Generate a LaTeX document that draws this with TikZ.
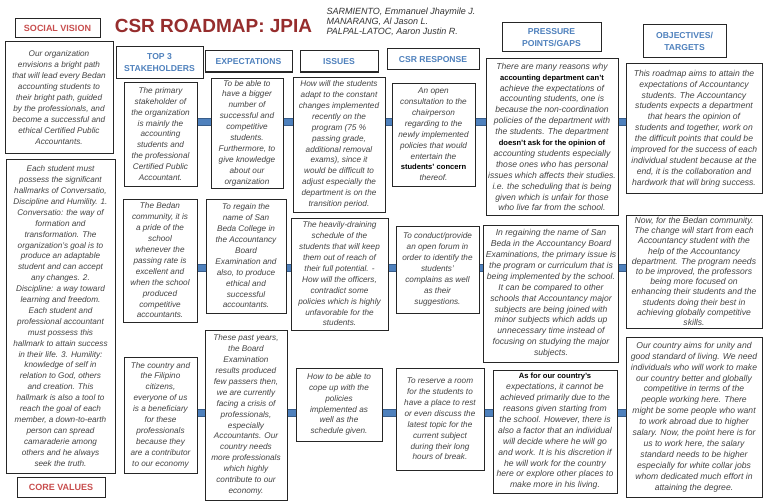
\documentclass[tikz,border=0pt]{standalone}
\usepackage{fontspec}
\setmainfont{Liberation Sans}
\usepackage{tikz}
\usetikzlibrary{positioning,calc}
\definecolor{HeadBlue}{RGB}{79,129,189}
\definecolor{LabelRed}{RGB}{200,78,78}
\definecolor{TitleRed}{RGB}{150,45,45}
\definecolor{LinkBlue}{RGB}{79,129,189}
\definecolor{LinkDark}{RGB}{56,93,138}
\definecolor{BodyGray}{RGB}{68,68,68}
\newcommand{\boldbit}[1]{{\upshape\bfseries\color{black}\fontsize{7.6}{10.9}\selectfont #1}}

\begin{document}
\begin{tikzpicture}[x=1pt,y=-1pt,
    box/.style={draw=black!85,line width=1pt,fill=white,align=center,inner sep=2pt},
    sz/.style 2 args={minimum width=#1,minimum height=#2},
    txt/.style={box,font=\fontsize{8.2}{10.9}\selectfont\itshape,text=BodyGray},
    wide/.style={txt,font=\fontsize{8.6}{10.9}\selectfont\itshape},
    head/.style={box,font=\fontsize{8.6}{12}\selectfont\bfseries,text=HeadBlue},
    redhead/.style={box,font=\fontsize{9}{11}\selectfont\bfseries,text=LabelRed},
    link/.style={draw=LinkDark,line width=0.8pt,double=LinkBlue,double distance=5.6pt}
  ]
  \fill[white] (0,0) rectangle (768,503);
  \useasboundingbox (0,0) rectangle (768,503);

  % title and names
  \node[font=\fontsize{19}{22}\selectfont\bfseries,text=TitleRed] (title) at (213.5,26) {CSR ROADMAP: JPIA};
  \node[anchor=west,align=left,font=\fontsize{9}{10}\selectfont\itshape,text=black!80] (names) at (323,22)
    {SARMIENTO, Emmanuel Jhaymile J.\\MANARANG, Al Jason L.\\PALPAL-LATOC, Aaron Justin R.};

  % left side
  \node[redhead,sz={85}{19}] (socvis) at (57.5,28.5) {SOCIAL VISION};
  \node[txt,sz={108}{111}] (vision) at (59,97.5) {Our organization\\envisions a bright path\\that will lead every Bedan\\accounting students to\\their bright path, guided\\by the professionals, and\\become a successful and\\ethical Certified Public\\Accountants.};
  \node[txt,sz={109}{314}] (values) at (60.5,316) {Each student must\\possess the significant\\hallmarks of Conversatio,\\Discipline and Humility. 1.\\Conversatio: the way of\\formation and\\transformation. The\\organization's goal is to\\produce an adaptable\\student and can accept\\any changes. 2.\\Discipline: a way toward\\learning and freedom.\\Each student and\\professional accountant\\must possess this\\hallmark to attain success\\in their life. 3. Humility:\\knowledge of self in\\relation to God, others\\and creation. This\\hallmark is also a tool to\\reach the goal of each\\member, a down-to-earth\\person can spread\\camaraderie among\\others and he always\\seek the truth.};
  \node[redhead,sz={88}{20}] (corevals) at (61,487) {CORE VALUES};

  % column headers
  \node[head,sz={87}{31}] (top3) at (159.5,62.5) {TOP 3\\STAKEHOLDERS};
  \node[head,sz={87}{21}] (expect) at (248.5,61.5) {EXPECTATIONS};
  \node[head,sz={78}{21}] (issues) at (339,61.5) {ISSUES};
  \node[head,sz={92}{21}] (csrresp) at (433,59.5) {CSR RESPONSE};
  \node[head,sz={99}{29}] (pressure) at (551.5,37.5) {PRESSURE\\POINTS/GAPS};
  \node[head,sz={83}{33}] (objectives) at (684.5,41.5) {OBJECTIVES/\\TARGETS};

  % stakeholders
  \node[txt,sz={73}{104}] (s1) at (160.5,134) {The primary\\stakeholder of\\the organization\\is mainly the\\accounting\\students and\\the professional\\Certified Public\\Accountant.};
  \node[txt,sz={74}{123}] (s2) at (160,260.5) {The Bedan\\community, it is\\a pride of the\\school\\whenever the\\passing rate is\\excellent and\\when the school\\produced\\competitive\\accountants.};
  \node[txt,sz={73}{116}] (s3) at (160.5,415) {The country and\\the Filipino\\citizens,\\everyone of us\\is a beneficiary\\for these\\professionals\\because they\\are a contributor\\to our economy};

  % expectations
  \node[txt,sz={72}{110}] (e1) at (247,133) {To be able to\\have a bigger\\number of\\successful and\\competitive\\students.\\Furthermore, to\\give knowledge\\about our\\organization};
  \node[txt,sz={80}{114}] (e2) at (246,256) {To regain the\\name of San\\Beda College in\\the Accountancy\\Board\\Examination and\\also, to produce\\ethical and\\successful\\accountants.};
  \node[txt,sz={82}{170}] (e3) at (246,415) {These past years,\\the Board\\Examination\\results produced\\few passers then,\\we are currently\\facing a crisis of\\professionals,\\especially\\Accountants. Our\\country needs\\more professionals\\which highly\\contribute to our\\economy.};

  % issues
  \node[txt,sz={92}{135}] (i1) at (339,144.5) {How will the students\\adapt to the constant\\changes implemented\\recently on the\\program (75 \%\\passing grade,\\additional removal\\exams), since it\\would be difficult to\\adjust especially the\\department is on the\\transition period.};
  \node[txt,sz={97}{112}] (i2) at (339.5,274) {The heavily-draining\\schedule of the\\students that will keep\\them out of reach of\\their full potential. -\\How will the officers,\\contradict some\\policies which is highly\\unfavorable for the\\students.};
  \node[txt,sz={86}{73}] (i3) at (339,404.5) {How to be able to\\cope up with the\\policies\\implemented as\\well as the\\schedule given.};

  % csr response
  \node[txt,sz={83}{103}] (c1) at (433.5,134.5) {An open\\consultation to the\\chairperson\\regarding to the\\newly implemented\\policies that would\\entertain the\\\boldbit{students' concern}\\thereof.};
  \node[txt,sz={83}{87}] (c2) at (437.5,269.5) {To conduct/provide\\an open forum in\\order to identify the\\students'\\complains as well\\as their\\suggestions.};
  \node[txt,sz={88}{102}] (c3) at (440,419) {To reserve a room\\for the students to\\have a place to rest\\or even discuss the\\latest topic for the\\current subject\\during their long\\hours of break.};

  % pressure points
  \node[wide,sz={132}{156}] (p1) at (552,137) {There are many reasons why\\\boldbit{accounting department can't}\\achieve the expectations of\\accounting students, one is\\because the non-coordination\\policies of the department with\\the students. The department\\\boldbit{doesn't ask for the opinion of}\\accounting students especially\\those ones who has personal\\issues which affects their studies.\\i.e. the scheduling that is being\\given which is unfair for those\\who live far from the school.};
  \node[wide,sz={134}{137}] (p2) at (551,293.5) {In regaining the name of San\\Beda in the Accountancy Board\\Examinations, the primary issue is\\the program or curriculum that is\\being implemented by the school.\\It can be compared to other\\schools that Accountancy major\\subjects are being joined with\\minor subjects which adds up\\unnecessary time instead of\\focusing on studying the major\\subjects.};
  \node[wide,sz={124}{123}] (p3) at (555,431.5) {\boldbit{As for our country's}\\expectations, it cannot be\\achieved primarily due to the\\reasons given starting from\\the school. However, there is\\also a factor that an individual\\will decide where he will go\\and work. It is his discretion if\\he will work for the country\\here or explore other places to\\make more in his living.};

  % objectives
  \node[wide,sz={136}{129}] (o1) at (694,128.5) {This roadmap aims to attain the\\expectations of Accountancy\\students. The Accountancy\\students expects a department\\that hears the opinion of\\students and together, work on\\the difficult points that could be\\improved for the success of each\\individual student because at the\\end, it is the collaboration and\\hardwork that will bring success.};
  \node[wide,sz={136}{113},font=\fontsize{8.6}{10.2}\selectfont\itshape] (o2) at (694,271.5) {Now, for the Bedan community.\\The change will start from each\\Accountancy student with the\\help of the Accountancy\\department. The program needs\\to be improved, the professors\\being more focused on\\enhancing their students and the\\students doing their best in\\achieving globally competitive\\skills.};
  \node[wide,sz={136}{160}] (o3) at (694,417) {Our country aims for unity and\\good standard of living. We need\\individuals who will work to make\\our country better and globally\\competitive in terms of the\\people working here. There\\might be some people who want\\to work abroad due to higher\\salary. Now, the point here is for\\us to work here, the salary\\standard needs to be higher\\especially for white collar jobs\\whom dedicated much effort in\\attaining the degree.};

  % row connectors
  \coordinate (r1) at (0,122);
  \coordinate (r2) at (0,268);
  \coordinate (r3) at (0,413);
  \draw[link] (s1.east |- r1) -- (e1.west |- r1);
  \draw[link] (e1.east |- r1) -- (i1.west |- r1);
  \draw[link] (i1.east |- r1) -- (c1.west |- r1);
  \draw[link] (c1.east |- r1) -- (p1.west |- r1);
  \draw[link] (p1.east |- r1) -- (o1.west |- r1);
  \draw[link] (s2.east |- r2) -- (e2.west |- r2);
  \draw[link] (e2.east |- r2) -- (i2.west |- r2);
  \draw[link] (i2.east |- r2) -- (c2.west |- r2);
  \draw[link] (c2.east |- r2) -- (p2.west |- r2);
  \draw[link] (p2.east |- r2) -- (o2.west |- r2);
  \draw[link] (s3.east |- r3) -- (e3.west |- r3);
  \draw[link] (e3.east |- r3) -- (i3.west |- r3);
  \draw[link] (i3.east |- r3) -- (c3.west |- r3);
  \draw[link] (c3.east |- r3) -- (p3.west |- r3);
  \draw[link] (p3.east |- r3) -- (o3.west |- r3);
\end{tikzpicture}
\end{document}
